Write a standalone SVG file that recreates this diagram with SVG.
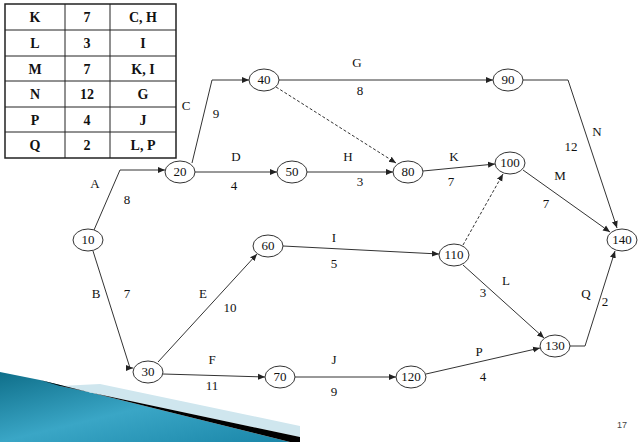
<svg xmlns="http://www.w3.org/2000/svg" width="638" height="442" viewBox="0 0 638 442">
<defs>
<marker id="ar" markerWidth="8" markerHeight="8" refX="7" refY="4" orient="auto" markerUnits="userSpaceOnUse"><path d="M0,1 L7,4 L0,7 Z" fill="#222"/></marker>
<linearGradient id="tg" x1="0" y1="0" x2="1" y2="1"><stop offset="0" stop-color="#0f6f8a"/><stop offset="0.5" stop-color="#3aa6c6"/><stop offset="1" stop-color="#1a86a8"/></linearGradient>
</defs>
<style>
text{font-family:"Liberation Serif",serif;font-size:13px;fill:#111;text-anchor:middle}
.tb{font-weight:bold;font-size:14px}
.n ellipse{fill:#fff;stroke:#333;stroke-width:1}
.c line,.c polyline{stroke:#333;stroke-width:1;fill:none;marker-end:url(#ar)}
.c .d{stroke-dasharray:3,2}
</style>
<rect width="638" height="442" fill="#fff"/>
<polygon points="0,372 40,380 290,442 0,442" fill="url(#tg)"/>
<polygon points="100,384 300,426 300,437 60,386" fill="#cfe6ee"/>
<polygon points="40,380 60,386 300,437 300,442 290,442" fill="#000"/>
<text x="622" y="428" style="font-size:9px;font-family:'Liberation Sans',sans-serif;fill:#444">17</text>
<g id="table">
<rect x="5" y="4" width="171" height="154" fill="#fff" stroke="#222" stroke-width="1.5"/>
<g stroke="#222" stroke-width="1">
<line x1="65" y1="4" x2="65" y2="158"/><line x1="110" y1="4" x2="110" y2="158"/>
<line x1="5" y1="30" x2="176" y2="30"/><line x1="5" y1="56" x2="176" y2="56"/><line x1="5" y1="81" x2="176" y2="81"/><line x1="5" y1="107" x2="176" y2="107"/><line x1="5" y1="132" x2="176" y2="132"/>
</g>
<g class="tb">
<text x="35" y="22" class="tb">K</text><text x="87" y="22" class="tb">7</text><text x="143" y="22" class="tb">C, H</text>
<text x="35" y="48" class="tb">L</text><text x="87" y="48" class="tb">3</text><text x="143" y="48" class="tb">I</text>
<text x="35" y="74" class="tb">M</text><text x="87" y="74" class="tb">7</text><text x="143" y="74" class="tb">K, I</text>
<text x="35" y="99" class="tb">N</text><text x="87" y="99" class="tb">12</text><text x="143" y="99" class="tb">G</text>
<text x="35" y="125" class="tb">P</text><text x="87" y="125" class="tb">4</text><text x="143" y="125" class="tb">J</text>
<text x="35" y="150" class="tb">Q</text><text x="87" y="150" class="tb">2</text><text x="143" y="150" class="tb">L, P</text>
</g>
</g>
<g id="connectors" class="c">
<polyline points="94,230 120,170 165,170"/>
<polyline points="93,251 130,368 133,368"/>
<polyline points="192,163 212,80 249,80"/>
<line x1="279" y1="80" x2="493" y2="80"/>
<polyline points="523,80 568,80 617,228"/>
<line x1="195" y1="172" x2="277" y2="172"/>
<line x1="307" y1="172" x2="393" y2="172"/>
<line x1="423" y1="171" x2="495" y2="164"/>
<line class="d" x1="276" y1="87" x2="396" y2="163"/>
<line class="d" x1="463" y1="245" x2="503" y2="174"/>
<line x1="523" y1="170" x2="610" y2="232"/>
<line x1="158" y1="362" x2="257" y2="254"/>
<line x1="283" y1="246" x2="439" y2="254"/>
<line x1="463" y1="265" x2="544" y2="338"/>
<polyline points="570,346 585,346 615,251"/>
<line x1="163" y1="374" x2="265" y2="377"/>
<line x1="295" y1="377" x2="396" y2="377"/>
<line x1="426" y1="374" x2="540" y2="348"/>
</g>
<g id="n10" class="n"><ellipse cx="88" cy="240" rx="15" ry="11"/><text x="88" y="244">10</text></g>
<g id="n20" class="n"><ellipse cx="180" cy="172" rx="15" ry="11"/><text x="180" y="176">20</text></g>
<g id="n40" class="n"><ellipse cx="264" cy="80" rx="15" ry="11"/><text x="264" y="84">40</text></g>
<g id="n90" class="n"><ellipse cx="508" cy="80" rx="15" ry="11"/><text x="508" y="84">90</text></g>
<g id="n50" class="n"><ellipse cx="292" cy="172" rx="15" ry="11"/><text x="292" y="176">50</text></g>
<g id="n80" class="n"><ellipse cx="408" cy="172" rx="15" ry="11"/><text x="408" y="176">80</text></g>
<g id="n100" class="n"><ellipse cx="510" cy="163" rx="15" ry="11"/><text x="510" y="167">100</text></g>
<g id="n140" class="n"><ellipse cx="622" cy="240" rx="15" ry="11"/><text x="622" y="244">140</text></g>
<g id="n60" class="n"><ellipse cx="268" cy="246" rx="15" ry="11"/><text x="268" y="250">60</text></g>
<g id="n110" class="n"><ellipse cx="454" cy="255" rx="15" ry="11"/><text x="454" y="259">110</text></g>
<g id="n130" class="n"><ellipse cx="555" cy="346" rx="15" ry="11"/><text x="555" y="350">130</text></g>
<g id="n30" class="n"><ellipse cx="148" cy="372" rx="15" ry="11"/><text x="148" y="376">30</text></g>
<g id="n70" class="n"><ellipse cx="280" cy="377" rx="15" ry="11"/><text x="280" y="381">70</text></g>
<g id="n120" class="n"><ellipse cx="411" cy="377" rx="15" ry="11"/><text x="411" y="381">120</text></g>
<g id="labels">
<text x="95" y="188">A</text><text x="127" y="204">8</text>
<text x="96" y="298">B</text><text x="127" y="298">7</text>
<text x="186" y="110">C</text><text x="216" y="118">9</text>
<text x="236" y="161">D</text><text x="234" y="190">4</text>
<text x="203" y="298">E</text><text x="230" y="312">10</text>
<text x="212" y="364">F</text><text x="212" y="390">11</text>
<text x="357" y="67">G</text><text x="360" y="95">8</text>
<text x="348" y="161">H</text><text x="360" y="186">3</text>
<text x="334" y="242">I</text><text x="334" y="268">5</text>
<text x="334" y="364">J</text><text x="334" y="396">9</text>
<text x="454" y="161">K</text><text x="451" y="186">7</text>
<text x="506" y="285">L</text><text x="483" y="297">3</text>
<text x="560" y="180">M</text><text x="546" y="208">7</text>
<text x="597" y="136">N</text><text x="571" y="151">12</text>
<text x="479" y="356">P</text><text x="483" y="381">4</text>
<text x="586" y="298">Q</text><text x="605" y="306">2</text>
</g>
</svg>
